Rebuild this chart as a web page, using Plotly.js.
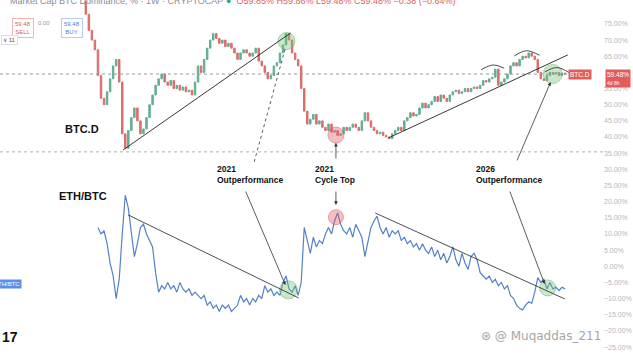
<!DOCTYPE html>
<html><head><meta charset="utf-8">
<script src="https://cdn.plot.ly/plotly-3.0.1.min.js"></script>
<style>html,body{margin:0;padding:0;background:#fff}#chart{width:633px;height:360px}</style>
</head><body><div id="chart"></div>
<script>
// ---- data (BTC dominance, % ; weekly chart sampled every 20 days) ----
const startDate = '2017-05-07';
const stepDays = 20;
const btcOpen0 = 82;
const btcClose = [78,73,70,67,59,52,50,54,58,62,64,57,41,36.5,42,46,49,45,41,42.5,
46,50,53,56,58,59.5,57,56,57.5,55,56,54.5,55.5,54,54.5,53,57,62,60,64,
67.5,70,72,70.5,69,70,68,69,67.5,66,64,66,67,66,65,66,67.5,63.5,62,60,
58,59,62,63,66,68.5,72,70,66,64,62,55,48,44,45.5,47,44,45,43,42,
44,41.5,42,40.5,41,43,42,43,44,43,42,45,47.5,45,43,42,41,41.5,40.5,40,
39.5,41,42,43,42,45,46,47.5,46.5,47,49,50.5,49,50,51,52.5,51,53,52,51,
53,54,54.5,53.5,54,55,54,55,55.5,55,56,57.5,57,58,58.5,61,56,57,58,59.5,
62,63,62,64,65,64.5,66,65,64,60,58,57.5,59,60,59.5,60,59,59.8,59.48];
// ETH/BTC (% change scale), starts at bar index 4
const ethStartIndex = 4;
const ethValues = [12,10,11,7,1,-3,-10,-4,10,22,18,10,3,7,12,13,10,8,6,-2,
-8,-6,-7,-5,-7,-6,-8,-5,-7,-8,-7,-9,-8,-9,-10,-9,-12,-11,-13,-12,
-14,-12,-13,-12,-14,-13,-12,-9,-11,-10,-12,-10,-11,-9,-10,-6,-8,-7,-9,-8,
-9,-5,-3,-7,-8,-6,-9,-5,12,8,4,9,6,8,7,10,12,10,14,16.5,
13,11,10,12,9,13,11,9,3,8,12,14,15.5,12,10,12,9,11,10,11,
8,9,7,8,6,7,5,7,5,4,6,3,5,2,4,1,3,6,2,0,
4,1,-1,3,4,2,-2,-3,-4,-3,-5,-4,-6,-5,-7,-6,-9,-10,-12,-13,
-13.5,-12,-11,-11.5,-8,-3.5,-5,-4,-7,-5,-7,-6.5,-7.5,-6.5,-7];
const yTickVals = [75,70,65,55,50,45,40,35,30,25,20,15,10,5,0,-5,-10,-15,-20,-25];
const lastPrice = 59.48;
const levelLine = 35.4;

// ---- build ----
function addDays(s, d){const t=new Date(s+'T00:00:00Z');t.setUTCDate(t.getUTCDate()+d);return t.toISOString().slice(0,10);}
const dates = btcClose.map((_,i)=>addDays(startDate,i*stepDays));
const btcOpen = btcClose.map((c,i)=> i===0 ? btcOpen0 : btcClose[i-1]);
const btcHigh = btcClose.map((c,i)=>Math.max(c,btcOpen[i]));
const btcLow = btcClose.map((c,i)=>Math.min(c,btcOpen[i]));
const ethDates = dates.slice(ethStartIndex, ethStartIndex+ethValues.length);

const GREEN='#62ae95', RED='#d96e6b';
const traces = [
 {type:'candlestick', x:dates, open:btcOpen, high:btcHigh, low:btcLow, close:btcClose,
  increasing:{line:{color:GREEN,width:1},fillcolor:GREEN},
  decreasing:{line:{color:RED,width:1},fillcolor:RED}, whiskerwidth:0, hoverinfo:'skip'},
 {type:'scatter', mode:'lines', x:ethDates, y:ethValues, line:{color:'#5481c9',width:1.2}, hoverinfo:'skip'},
 // highlight circles
 {type:'scatter', mode:'markers', x:['2020-12-20','2025-10-10','2021-01-02','2025-09-07'], y:[69.7,59.5,-7.3,-6.7],
  marker:{size:[17,19,18,16], color:'rgba(110,190,110,0.5)', line:{color:'rgba(90,170,90,0.7)',width:1}}, hoverinfo:'skip'},
 {type:'scatter', mode:'markers', x:['2021-11-11','2021-11-11'], y:[40.6,15.2],
  marker:{size:[16,15], color:'rgba(226,90,100,0.55)', line:{color:'rgba(210,80,90,0.7)',width:1}}, hoverinfo:'skip'},
 // arcs over the recent tops
 {type:'scatter', mode:'lines', x:['2024-06-25','2024-09-13','2024-11-25'], y:[60.8,62.3,61.3], line:{shape:'spline',color:'#222',width:0.8}, hoverinfo:'skip'},
 {type:'scatter', mode:'lines', x:['2025-01-30','2025-04-20','2025-07-16'], y:[65.1,66.7,65.3], line:{shape:'spline',color:'#222',width:0.8}, hoverinfo:'skip'},
 {type:'scatter', mode:'lines', x:['2025-08-18','2025-11-06','2026-01-31'], y:[60.1,61.5,59.8], line:{shape:'spline',color:'#222',width:0.8}, hoverinfo:'skip'}
];

const W=603, H=360;
const px = v=>v/W, py = v=>1-v/H;
const txtFont = {family:'Liberation Sans, Arial, sans-serif', size:8.5, color:'#111'};
const arrow = (x,y,ax,ay)=>({x:x,y:y,ax:ax,ay:ay,xref:'x',yref:'y',axref:'x',ayref:'y',text:'',showarrow:true,arrowhead:2,arrowsize:0.9,arrowwidth:0.8,arrowcolor:'#333'});

const annotations = [
 {xref:'paper',yref:'paper',x:px(8),y:1,xanchor:'left',yanchor:'middle',yshift:-1,text:'Market Cap BTC Dominance, % · 1W · CRYPTOCAP',showarrow:false,font:{family:'Liberation Sans, Arial',size:9,color:'#8a8d96'}},
 {xref:'paper',yref:'paper',x:px(224),y:1,xanchor:'left',yanchor:'middle',yshift:-1,text:'<span style="color:#3aa76d">●</span>  O59.85% H59.86% L59.48% C59.48% −0.38 (−0.64%)',showarrow:false,font:{family:'Liberation Sans, Arial',size:9,color:'#e0625f'}},
 {xref:'paper',yref:'paper',x:px(12),y:py(18),text:'59.48<br>SELL',showarrow:false,font:{family:'Liberation Sans, Arial',size:6,color:'#e05a5a'},bordercolor:'#f0b5b5',borderwidth:1,borderpad:2,bgcolor:'#fff'},
 {xref:'paper',yref:'paper',x:px(36),y:py(18),text:'0.00',showarrow:false,font:{family:'Liberation Sans, Arial',size:6,color:'#999'}},
 {xref:'paper',yref:'paper',x:px(61),y:py(18),text:'59.48<br>BUY',showarrow:false,font:{family:'Liberation Sans, Arial',size:6,color:'#4a7fd6'},bordercolor:'#b8cdf0',borderwidth:1,borderpad:2,bgcolor:'#fff'},
 {xref:'paper',yref:'paper',x:px(1),y:py(35),xanchor:'left',text:'∨ 11',showarrow:false,font:{family:'Liberation Sans, Arial',size:6,color:'#555'},bordercolor:'#ddd',borderwidth:1,borderpad:1,bgcolor:'#fff'},
 {xref:'paper',yref:'paper',x:px(63),y:py(129),xanchor:'left',text:'<b>BTC.D</b>',showarrow:false,font:{family:'Liberation Sans, Arial',size:11,color:'#111'}},
 {xref:'paper',yref:'paper',x:px(57),y:py(196),xanchor:'left',text:'<b>ETH/BTC</b>',showarrow:false,font:{family:'Liberation Sans, Arial',size:11,color:'#111'}},
 {x:'2019-09-04',y:28.3,xref:'x',yref:'y',xanchor:'left',yanchor:'middle',align:'left',text:'<b>2021<br>Outperformance</b>',showarrow:false,font:txtFont},
 {x:'2021-06-11',y:28.3,xref:'x',yref:'y',xanchor:'left',yanchor:'middle',align:'left',text:'<b>2021<br>Cycle Top</b>',showarrow:false,font:txtFont},
 {x:'2024-05-09',y:28.3,xref:'x',yref:'y',xanchor:'left',yanchor:'middle',align:'left',text:'<b>2026<br>Outperformance</b>',showarrow:false,font:txtFont},
 arrow('2020-12-13',-5.8,'2020-03-22',23.6),
 arrow('2021-11-11',38.2,'2021-11-11',32.9),
 arrow('2021-11-11',19.0,'2021-11-11',23.6),
 arrow('2025-09-27',57.0,'2025-02-13',32.3),
 arrow('2025-08-18',-5.5,'2024-12-28',23.6),
 {xref:'paper',x:px(592),yref:'y',y:lastPrice,text:'BTC.D',showarrow:false,font:{family:'Liberation Sans, Arial',size:6.5,color:'#fff'},bgcolor:'#e25d5a',borderpad:1},
 {xref:'paper',x:px(605),xanchor:'left',yref:'y',y:lastPrice,yanchor:'top',yshift:5,text:'59.48%<br><span style="font-size:5px">4d 8h</span>',showarrow:false,font:{family:'Liberation Sans, Arial',size:6.5,color:'#fff'},bgcolor:'#e25d5a',borderpad:1,align:'left'},
 {xref:'paper',yref:'paper',x:px(22),xanchor:'right',y:py(289),text:'ETH/BTC',showarrow:false,font:{family:'Liberation Sans, Arial',size:6,color:'#fff'},bgcolor:'#5d8fe8',borderpad:1},
 {xref:'paper',yref:'paper',x:0,xanchor:'left',y:py(347),text:'<b>17</b>',showarrow:false,font:{family:'Liberation Sans, Arial',size:14,color:'#111'}},
 {xref:'paper',yref:'paper',x:px(603),xanchor:'right',y:py(345),text:'⊛ @ Muqaddas_211',showarrow:false,font:{family:'DejaVu Sans, sans-serif',size:12,color:'#a6a6a6'}}
];

const shapes = [
 {type:'line',xref:'paper',x0:0,x1:px(582),yref:'y',y0:lastPrice,y1:lastPrice,line:{color:'#9a9a9a',width:1,dash:'dot'}},
 {type:'line',xref:'paper',x0:0,x1:1,yref:'y',y0:levelLine,y1:levelLine,line:{color:'#b0b0b0',width:1,dash:'dot'}},
 {type:'line',xref:'x',yref:'y',x0:'2018-01-08',y0:36.0,x1:'2021-01-16',y1:72.2,line:{color:'#222',width:0.9}},
 {type:'line',xref:'x',yref:'y',x0:'2022-10-22',y0:39.7,x1:'2026-01-18',y1:65.4,line:{color:'#222',width:0.9}},
 {type:'line',xref:'x',yref:'y',x0:'2018-02-10',y0:15.9,x1:'2021-03-10',y1:-9.8,line:{color:'#222',width:0.8}},
 {type:'line',xref:'x',yref:'y',x0:'2022-07-28',y0:16.5,x1:'2025-12-29',y1:-10.1,line:{color:'#222',width:0.8}},
 {type:'line',xref:'x',yref:'y',x0:'2020-05-21',y0:32.3,x1:'2020-12-13',y1:67.6,line:{color:'#333',width:0.8,dash:'dot'}}
];

const layout = {
 width:633, height:360, margin:{l:0,r:30,t:0,b:0},
 paper_bgcolor:'#fff', plot_bgcolor:'#fff', showlegend:false,
 xaxis:{type:'date', range:['2015-10-19','2026-09-07'], visible:false, rangeslider:{visible:false}, fixedrange:true},
 yaxis:{side:'right', range:[-29,82.4], tickvals:yTickVals, ticktext:yTickVals.map(v=>(v<0?'−':'')+Math.abs(v).toFixed(2)+'%'),
  showgrid:false, zeroline:false, showline:false, ticks:'', tickfont:{family:'Liberation Sans, Arial',size:7,color:'#b3b6bd'}, fixedrange:true},
 annotations:annotations, shapes:shapes
};
Plotly.newPlot('chart', traces, layout, {staticPlot:true, displayModeBar:false});
</script></body></html>
